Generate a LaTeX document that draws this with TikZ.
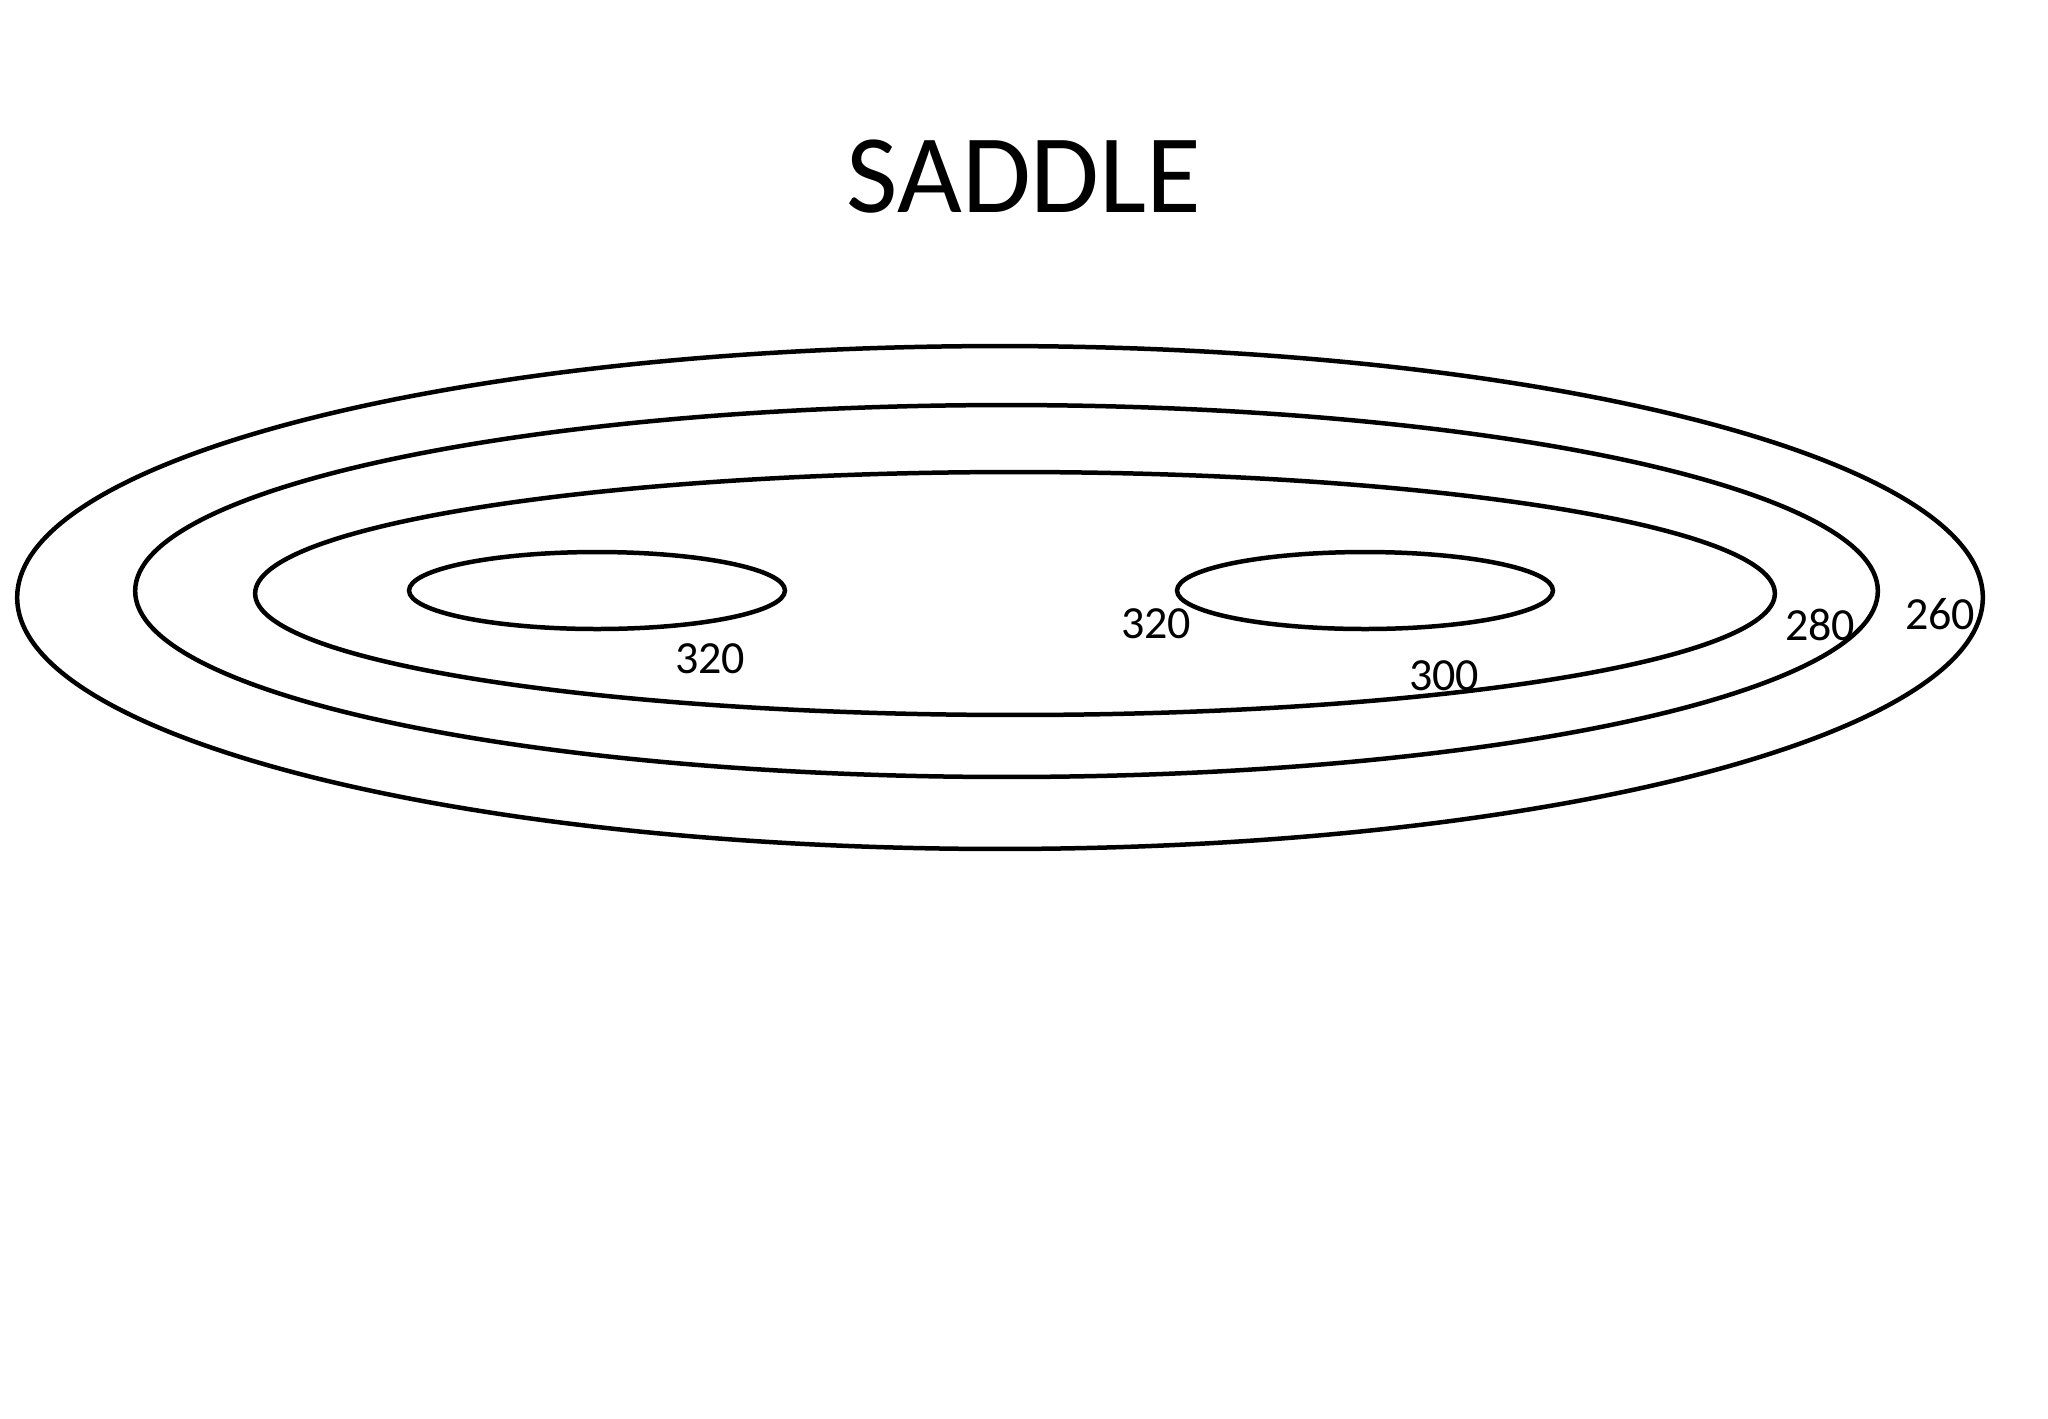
\documentclass[tikz,border=0pt]{standalone}
\usepackage{fontspec}
\setmainfont{Carlito}
\begin{document}
\begin{tikzpicture}[x=0.02cm,y=-0.02cm,
  contour/.style={draw=black,line width=0.09cm},
  hlabel/.style={inner sep=0pt,font=\fontsize{26.2pt}{30pt}\selectfont},
  titlelabel/.style={inner sep=0pt,font=\fontsize{63.7pt}{70pt}\selectfont}]
\useasboundingbox[fill=white] (0,0) rectangle (2048,1418);
\node[titlelabel] (title) at (1024,177) {SADDLE};
\draw[contour] (1000,597.5) ellipse [x radius=19.66cm, y radius=5.03cm];
\draw[contour] (1006.5,591) ellipse [x radius=17.43cm, y radius=3.72cm];
\draw[contour] (1015,593.5) ellipse [x radius=15.2cm, y radius=2.43cm];
\draw[contour] (597,590.5) ellipse [x radius=3.76cm, y radius=0.77cm];
\draw[contour] (1365,590.5) ellipse [x radius=3.76cm, y radius=0.77cm];
\node[hlabel] (l320a) at (710,659) {320};
\node[hlabel] (l320b) at (1156,624) {320};
\node[hlabel] (l300) at (1444,676) {300};
\node[hlabel] (l280) at (1820,625) {280};
\node[hlabel] (l260) at (1940,614) {260};
\end{tikzpicture}
\end{document}
